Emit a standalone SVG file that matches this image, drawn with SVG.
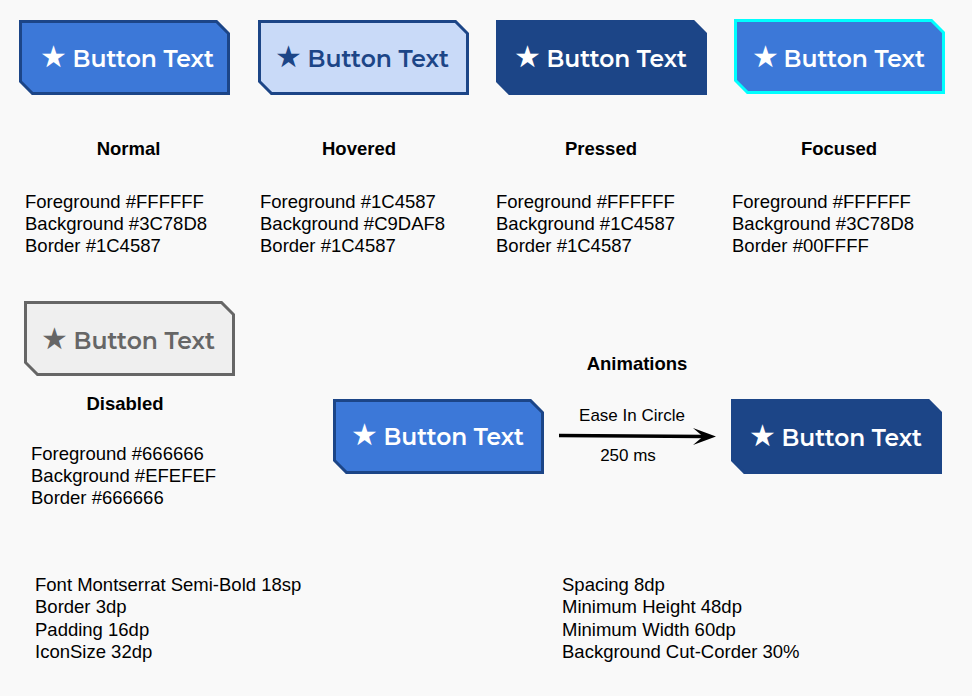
<svg xmlns="http://www.w3.org/2000/svg" xmlns:xlink="http://www.w3.org/1999/xlink" width="972" height="696" viewBox="0 0 972 696">
<style>
.btn{stroke-width:3;stroke-linejoin:miter}
.bt{font-family:Montserrat,Inter,"Open Sans","DejaVu Sans",sans-serif;font-weight:600;font-size:24px}
.st{font-family:"DejaVu Sans",sans-serif;font-size:30px}
.lbl{font-family:"Liberation Sans",Arial,sans-serif;font-weight:bold;font-size:18.5px;fill:#000;text-anchor:middle}
.body{font-family:"Liberation Sans",Arial,sans-serif;font-size:18.5px;fill:#000}
.small{font-family:"Liberation Sans",Arial,sans-serif;font-size:17px;fill:#000;text-anchor:middle}
</style>
<defs>
<path id="shape" d="M0,0 H196 L208,12 V72 H12 L0,60 Z"/>
</defs>
<rect width="972" height="696" fill="#F9F9F9"/>

<g id="normal">
<use xlink:href="#shape" href="#shape" class="btn" transform="translate(20.5,21.5)" fill="#3C78D8" stroke="#1C4587"/>
<text class="bt" y="67" fill="#FFFFFF"><tspan class="st" x="40">★</tspan><tspan x="66" textLength="148" lengthAdjust="spacingAndGlyphs"> Button Text</tspan></text>
<text class="lbl" x="128.5" y="155">Normal</text>
<text class="body" x="25" y="207.5">Foreground #FFFFFF</text>
<text class="body" x="25" y="229.5">Background #3C78D8</text>
<text class="body" x="25" y="251.5">Border #1C4587</text>
</g>

<g id="hovered">
<use xlink:href="#shape" href="#shape" class="btn" transform="translate(259.5,21.5)" fill="#C9DAF8" stroke="#1C4587"/>
<text class="bt" y="67" fill="#1C4587"><tspan class="st" x="275">★</tspan><tspan x="301" textLength="148" lengthAdjust="spacingAndGlyphs"> Button Text</tspan></text>
<text class="lbl" x="359" y="155">Hovered</text>
<text class="body" x="260" y="207.5">Foreground #1C4587</text>
<text class="body" x="260" y="229.5">Background #C9DAF8</text>
<text class="body" x="260" y="251.5">Border #1C4587</text>
</g>

<g id="pressed">
<use xlink:href="#shape" href="#shape" class="btn" transform="translate(497.5,21.5)" fill="#1C4587" stroke="#1C4587"/>
<text class="bt" y="67" fill="#FFFFFF"><tspan class="st" x="514">★</tspan><tspan x="540" textLength="147" lengthAdjust="spacingAndGlyphs"> Button Text</tspan></text>
<text class="lbl" x="601" y="155">Pressed</text>
<text class="body" x="496" y="207.5">Foreground #FFFFFF</text>
<text class="body" x="496" y="229.5">Background #1C4587</text>
<text class="body" x="496" y="251.5">Border #1C4587</text>
</g>

<g id="focused">
<use xlink:href="#shape" href="#shape" class="btn" transform="translate(735.5,20.5)" fill="#3C78D8" stroke="#00FFFF"/>
<text class="bt" y="66.5" fill="#FFFFFF"><tspan class="st" x="752">★</tspan><tspan x="777" textLength="148" lengthAdjust="spacingAndGlyphs"> Button Text</tspan></text>
<text class="lbl" x="839" y="155">Focused</text>
<text class="body" x="732" y="207.5">Foreground #FFFFFF</text>
<text class="body" x="732" y="229.5">Background #3C78D8</text>
<text class="body" x="732" y="251.5">Border #00FFFF</text>
</g>

<g id="disabled">
<use xlink:href="#shape" href="#shape" class="btn" transform="translate(25.5,302.5)" fill="#EFEFEF" stroke="#666666"/>
<text class="bt" y="348.5" fill="#666666"><tspan class="st" x="41">★</tspan><tspan x="67" textLength="148" lengthAdjust="spacingAndGlyphs"> Button Text</tspan></text>
<text class="lbl" x="125" y="410">Disabled</text>
<text class="body" x="31" y="459.5">Foreground #666666</text>
<text class="body" x="31" y="481.5">Background #EFEFEF</text>
<text class="body" x="31" y="503.5">Border #666666</text>
</g>

<g id="animations">
<text class="lbl" x="637" y="369.5">Animations</text>
</g>

<g id="anim-from">
<use xlink:href="#shape" href="#shape" class="btn" transform="translate(334.5,400.5)" fill="#3C78D8" stroke="#1C4587"/>
<text class="bt" y="445" fill="#FFFFFF"><tspan class="st" x="351">★</tspan><tspan x="377" textLength="147" lengthAdjust="spacingAndGlyphs"> Button Text</tspan></text>
</g>

<g id="anim-to">
<use xlink:href="#shape" href="#shape" class="btn" transform="translate(732.5,400.5)" fill="#1C4587" stroke="#1C4587"/>
<text class="bt" y="445.5" fill="#FFFFFF"><tspan class="st" x="749">★</tspan><tspan x="775" textLength="147" lengthAdjust="spacingAndGlyphs"> Button Text</tspan></text>
</g>

<g id="connectors">
<line x1="559" y1="435.5" x2="704" y2="436.5" stroke="#000" stroke-width="3.5"/>
<path d="M716,436.5 L693,428 L703,436.5 L693,445 Z" fill="#000"/>
<text class="small" x="632" y="421">Ease In Circle</text>
<text class="small" x="628" y="461">250 ms</text>
</g>

<g id="specs">
<text class="body" x="35" y="590.5">Font Montserrat Semi-Bold 18sp</text>
<text class="body" x="35" y="613">Border 3dp</text>
<text class="body" x="35" y="635.5">Padding 16dp</text>
<text class="body" x="35" y="658">IconSize 32dp</text>
<text class="body" x="562" y="590.5">Spacing 8dp</text>
<text class="body" x="562" y="613">Minimum Height 48dp</text>
<text class="body" x="562" y="635.5">Minimum Width 60dp</text>
<text class="body" x="562" y="658">Background Cut-Corder 30%</text>
</g>
</svg>
